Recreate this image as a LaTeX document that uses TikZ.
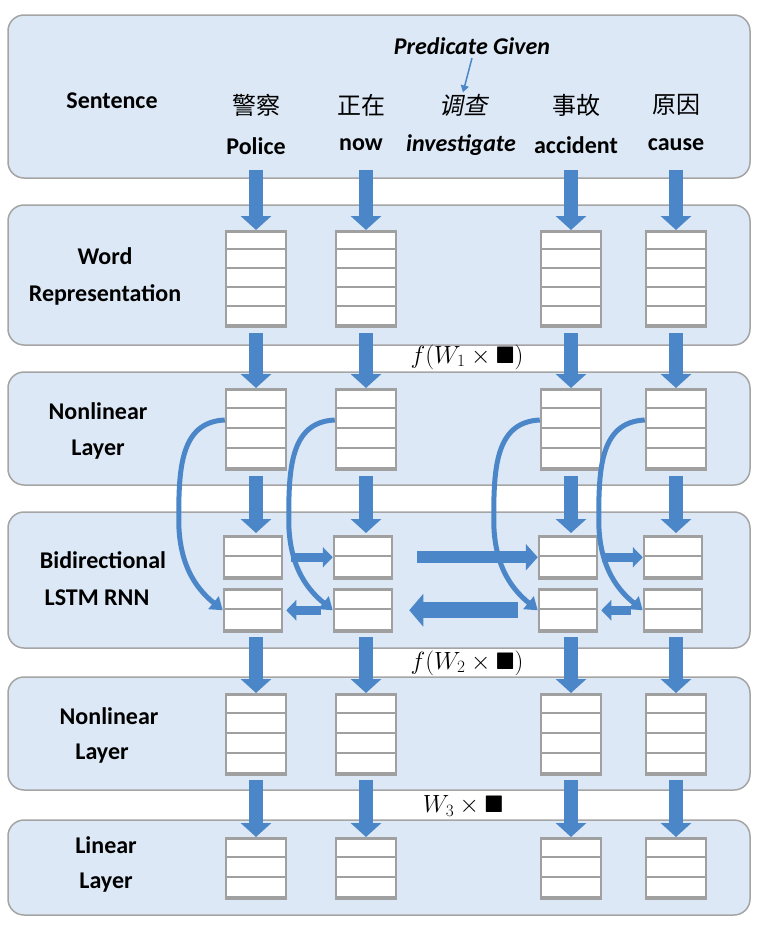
\documentclass[tikz,border=0pt]{standalone}
\usepackage{amsmath}
\usepackage{amssymb}
\usepackage{fontspec}
\setmainfont{Carlito}
\newfontfamily\cjk{Noto Sans CJK SC}
\newfontfamily\cjkit{Noto Sans CJK SC}[FakeSlant=0.2]
\usetikzlibrary{arrows.meta}
\definecolor{panelbg}{RGB}{220,232,245}
\definecolor{panelln}{RGB}{165,165,165}
\definecolor{arrbl}{RGB}{75,135,200}
\definecolor{boxln}{RGB}{160,160,160}
\tikzset{
  panel/.style={draw=panelln,line width=1.5pt,fill=panelbg,rounded corners=16pt},
  lbl/.style={font=\fontsize{24}{28}\selectfont\bfseries},
  cw/.style={font=\fontsize{24}{28}\selectfont\cjk},
  mth/.style={font=\fontsize{24}{28}\selectfont},
  blk/.style={arrbl,line width=14pt,-{Triangle[width=30pt,length=14pt]}},
  hblk/.style={arrbl,line width=12pt,-{Triangle[width=26pt,length=12pt]}},
  sblk/.style={arrbl,line width=9pt,-{Triangle[width=20pt,length=10pt]}},
  crv/.style={arrbl,line width=5pt,-{Triangle[width=16pt,length=12pt]}},
  cell/.style={draw=boxln,line width=2.5pt,fill=white,inner sep=0pt}
}
% stack box: name, x center, y top, rows, row height, width
\newcommand\stackbox[6]{%
  \node[cell,minimum width=#6pt,minimum height=#4*#5pt,anchor=north] (#1) at (#2,#3) {};
  \foreach \r in {1,...,#4}{\draw[boxln,line width=2.5pt] ([yshift=-\r*#5pt]#1.north west) -- ([yshift=-\r*#5pt]#1.north east);}
}
\begin{document}
\begin{tikzpicture}[x=1pt,y=-1pt]
\useasboundingbox (0,0) rectangle (765,929);
\fill[white] (0,0) rectangle (765,929);
% panels
\draw[panel] (8,15) rectangle (750,178);
\draw[panel] (8,205) rectangle (750,345);
\draw[panel] (8,372) rectangle (750,485);
\draw[panel] (8,512) rectangle (750,648);
\draw[panel] (8,677) rectangle (750,790);
\draw[panel] (8,820) rectangle (750,915);
% left labels
\node[lbl] (ls) at (112,101) {Sentence};
\node[lbl] (lw1) at (105,256) {Word};
\node[lbl] (lw2) at (105,295) {Representation};
\node[lbl] (ln1) at (98,411) {Nonlinear};
\node[lbl] (ln2) at (98,450) {Layer};
\node[lbl] (lb1) at (103,560) {Bidirectional};
\node[lbl] (lb2) at (97,598) {LSTM RNN};
\node[lbl] (lm1) at (109,716) {Nonlinear};
\node[lbl] (lm2) at (102,754) {Layer};
\node[lbl] (ll1) at (106,845) {Linear};
\node[lbl] (ll2) at (106,883) {Layer};
% sentence
\node[lbl,font=\fontsize{24}{28}\selectfont\bfseries\itshape] (pg) at (472,46) {Predicate Given};
\node[cw] (c1) at (256,105) {警察};
\node[cw] (c2) at (361,105) {正在};
\node[cw,font=\fontsize{24}{28}\selectfont\cjkit] (c3) at (463,105) {调查};
\node[cw] (c4) at (576,105) {事故};
\node[cw] (c5) at (676,105) {原因};
\draw[arrbl,line width=1.5pt,-{Triangle[width=8pt,length=7pt]}] (pg.south) -- ([yshift=-2pt]c3.north);
\node[lbl] (e1) at (256,146) {Police};
\node[lbl] (e2) at (361,145) {now};
\node[lbl,font=\fontsize{24}{28}\selectfont\bfseries\itshape] (e3) at (461,145) {investigate};
\node[lbl] (e4) at (576,145) {accident};
\node[lbl] (e5) at (676,145) {cause};
% math labels
\node[mth] (m1) at (467,357) {$f(W_1\times\blacksquare)$};
\node[mth] (m2) at (467,663) {$f(W_2\times\blacksquare)$};
\node[mth] (m3) at (463,806) {$W_3\times\blacksquare$};
% columns
\foreach \i/\x/\lx in {1/256/253,2/366/363,3/571/568,4/676/673}{
  \stackbox{w\i}{\x}{230}{5}{19}{60}
  \stackbox{n\i}{\x}{388}{4}{20}{60}
  \stackbox{u\i}{\lx}{535}{2}{21}{58}
  \stackbox{d\i}{\lx}{588}{2}{21}{58}
  \stackbox{p\i}{\x}{693}{4}{20}{60}
  \stackbox{q\i}{\x}{837}{3}{20}{60}
  \coordinate (t\i) at (\x,170);
  \coordinate (a\i) at (\x,333);
  \coordinate (b\i) at (\x,476);
  \coordinate (c\i) at (\x,637);
  \coordinate (g\i) at (\x,780);
  \draw[blk] (t\i) -- (w\i.north);
  \draw[blk] (a\i) -- (n\i.north);
  \draw[blk] (b\i) -- (\x,533);
  \draw[blk] (c\i) -- (p\i.north);
  \draw[blk] (g\i) -- (q\i.north);
  \draw[crv] ([yshift=-32pt]n\i.north west) .. controls +(-45,2) and +(0,-50) .. ([xshift=-44pt]d\i.west |- 0,520) .. controls +(0,50) and +(-22,-18) .. (d\i.west);
}
% horizontal LSTM arrows
\draw[sblk] ([xshift=8pt]u1.east) -- (u2.west);
\draw[hblk] ([xshift=24pt]u2.east) -- (u3.west);
\draw[sblk] ([xshift=4pt]u3.east) -- (u4.west);
\draw[sblk] ([xshift=-12pt]d2.west) -- ([xshift=3pt]d1.east);
\draw[arrbl,line width=16pt,-{Triangle[width=32pt,length=14pt]}] ([xshift=-20pt]d3.west) -- ([xshift=16pt]d2.east);
\draw[sblk] ([xshift=-12pt]d4.west) -- ([xshift=3pt]d3.east);
\end{tikzpicture}
\end{document}
